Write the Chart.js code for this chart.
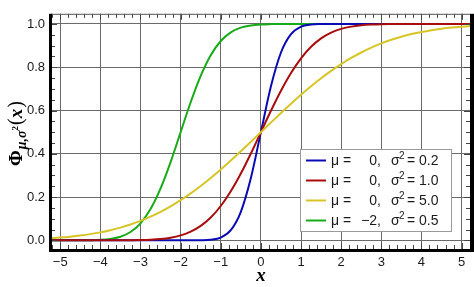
<!DOCTYPE html>
<html>
<head>
<meta charset="utf-8">
<script src="https://cdn.jsdelivr.net/npm/chart.js@4.4.1/dist/chart.umd.min.js"></script>
<style>
  html, body { margin: 0; padding: 0; background: #ffffff; }
  #wrap { width: 474px; height: 287px; }
</style>
</head>
<body>
<div id="wrap"><canvas id="cdfChart" width="474" height="287"></canvas></div>
<script>
// ── Data ────────────────────────────────────────────────────────────────────
const xValues = [
  -5.25, -5, -4.75, -4.5, -4.25, -4, -3.75, -3.5, -3.25, -3, -2.75, -2.5, -2.25, -2, -1.75,
  -1.5, -1.25, -1, -0.75, -0.5, -0.25, 0, 0.25, 0.5, 0.75, 1, 1.25, 1.5, 1.75, 2,
  2.25, 2.5, 2.75, 3, 3.25, 3.5, 3.75, 4, 4.25, 4.5, 4.75, 5, 5.25
];
const blueValues = [
  0, 0, 0, 0, 0, 0, 0, 0, 0, 0, 0, 0, 0, 0, 0,
  0.0004, 0.0026, 0.0127, 0.0468, 0.1318, 0.2881, 0.5, 0.7119, 0.8682, 0.9532, 0.9873, 0.9974, 0.9996, 1, 1,
  1, 1, 1, 1, 1, 1, 1, 1, 1, 1, 1, 1, 1
];
const redValues = [
  0, 0, 0, 0, 0, 0, 0.0001, 0.0002, 0.0006, 0.0013, 0.0030, 0.0062, 0.0122, 0.0228, 0.0401,
  0.0668, 0.1056, 0.1587, 0.2266, 0.3085, 0.4013, 0.5, 0.5987, 0.6915, 0.7734, 0.8413, 0.8944, 0.9332, 0.9599, 0.9772,
  0.9878, 0.9938, 0.9970, 0.9987, 0.9994, 0.9998, 0.9999, 1, 1, 1, 1, 1, 1
];
const yellowValues = [
  0.0094, 0.0127, 0.0168, 0.0221, 0.0287, 0.0368, 0.0468, 0.0588, 0.0731, 0.0899, 0.1094, 0.1318, 0.1572, 0.1856, 0.2169,
  0.2511, 0.2881, 0.3274, 0.3687, 0.4115, 0.4555, 0.5, 0.5445, 0.5885, 0.6313, 0.6726, 0.7119, 0.7489, 0.7831, 0.8144,
  0.8428, 0.8682, 0.8906, 0.9101, 0.9269, 0.9412, 0.9532, 0.9632, 0.9713, 0.9779, 0.9832, 0.9873, 0.9906
];
const greenValues = [
  0, 0, 0.0001, 0.0002, 0.0007, 0.0023, 0.0067, 0.0169, 0.0385, 0.0786, 0.1444, 0.2398, 0.3618, 0.5, 0.6382,
  0.7602, 0.8556, 0.9214, 0.9615, 0.9831, 0.9933, 0.9977, 0.9993, 0.9998, 0.9999, 1, 1, 1, 1, 1,
  1, 1, 1, 1, 1, 1, 1, 1, 1, 1, 1, 1, 1
];
const xTicks = [-5, -4, -3, -2, -1, 0, 1, 2, 3, 4, 5];
const yTicks = [0, 0.2, 0.4, 0.6, 0.8, 1.0];
const legendMu = ['0,', '0,', '0,', '\u22122,'];
const legendSigma = ['0.2', '1.0', '5.0', '0.5'];
const seriesColors = ['#0a0ab4', '#a80c0c', '#d6c526', '#18aa18'];

const FONT = '"Liberation Sans", Arial, Helvetica, sans-serif';
const SERIF = '"Liberation Serif", "DejaVu Serif", "Times New Roman", serif';

function toPoints(ys) {
  return xValues.map((x, i) => ({ x: x, y: ys[i] }));
}
function minusLabel(v) {
  return v < 0 ? '\u2212' + Math.abs(v) : String(v);
}

// ── Frame, minor ticks, titles and legend ───────────────────────────────────
const framePlugin = {
  id: 'framePlugin',
  afterDatasetsDraw(chart) {
    const { ctx, chartArea: a, scales: { x, y } } = chart;
    ctx.save();

    // tick marks on all four sides, pointing inward
    ctx.strokeStyle = '#444';
    ctx.lineWidth = 1;
    ctx.beginPath();
    for (let i = -26; i <= 26; i++) {
      const v = i / 5;
      const px = Math.round(x.getPixelForValue(v)) + 0.5;
      if (px < a.left || px > a.right) continue;
      const len = (i % 5 === 0) ? 6 : 4;
      ctx.moveTo(px, a.bottom); ctx.lineTo(px, a.bottom - len);
      ctx.moveTo(px, a.top); ctx.lineTo(px, a.top + len);
    }
    for (let i = 0; i <= 21; i++) {
      const v = i / 20;
      const py = Math.round(y.getPixelForValue(v)) + 0.5;
      if (py < a.top || py > a.bottom) continue;
      const len = (i % 4 === 0) ? 6 : 4;
      ctx.moveTo(a.left, py); ctx.lineTo(a.left + len, py);
      ctx.moveTo(a.right, py); ctx.lineTo(a.right - len, py);
    }
    ctx.stroke();

    // frame: thin top, heavy left/bottom/right
    ctx.strokeStyle = '#555';
    ctx.lineWidth = 1;
    ctx.beginPath();
    ctx.moveTo(a.left, a.top + 0.5); ctx.lineTo(a.right, a.top + 0.5);
    ctx.stroke();
    ctx.fillStyle = '#000';
    ctx.fillRect(a.left - 2, a.top, 3, a.bottom - a.top + 3);
    ctx.fillRect(a.left - 2, a.bottom, a.right - a.left + 6, 3);
    ctx.fillRect(a.right, a.top, 4, a.bottom - a.top + 3);

    // legend box
    const bx = 300, by = 149, bw = 151, bh = 82;
    ctx.fillStyle = '#ffffff';
    ctx.fillRect(bx, by, bw, bh);
    ctx.strokeStyle = '#9a9a9a';
    ctx.lineWidth = 1;
    ctx.strokeRect(bx + 0.5, by + 0.5, bw, bh);
    ctx.font = '14px ' + FONT;
    ctx.textBaseline = 'middle';
    for (let i = 0; i < 4; i++) {
      const ly = 160.5 + i * 20;
      ctx.strokeStyle = seriesColors[i];
      ctx.lineWidth = 2;
      ctx.beginPath();
      ctx.moveTo(306, ly); ctx.lineTo(326, ly);
      ctx.stroke();
      ctx.fillStyle = '#1a1a1a';
      ctx.textAlign = 'left';
      ctx.fillText('\u03bc =', 331, ly + 1);
      ctx.textAlign = 'right';
      ctx.fillText(legendMu[i], 381, ly + 1);
      ctx.textAlign = 'left';
      ctx.fillText('\u03c3', 391, ly + 1);
      ctx.font = '10px ' + FONT;
      ctx.fillText('2', 399, ly - 4);
      ctx.font = '14px ' + FONT;
      ctx.fillText('= ' + legendSigma[i], 407, ly + 1);
    }

    // x axis title
    ctx.fillStyle = '#000';
    ctx.textAlign = 'center';
    ctx.textBaseline = 'alphabetic';
    ctx.font = 'italic bold 19px ' + SERIF;
    ctx.fillText('x', x.getPixelForValue(0), 281);

    // y axis title, rotated
    ctx.translate(17, 129);
    ctx.rotate(-Math.PI / 2);
    ctx.textBaseline = 'middle';
    ctx.textAlign = 'left';
    let tx = -37;
    ctx.font = 'bold 19px ' + SERIF;
    ctx.fillText('\u03a6', tx, 0);
    tx += ctx.measureText('\u03a6').width + 1;
    ctx.font = 'italic bold 14px ' + SERIF;
    ctx.fillText('\u03bc,\u03c3', tx, 5);
    tx += ctx.measureText('\u03bc,\u03c3').width;
    ctx.font = 'bold 9px ' + SERIF;
    ctx.fillText('2', tx, -1);
    tx += ctx.measureText('2').width + 1;
    ctx.font = '20px ' + SERIF;
    ctx.fillText('(', tx, 0);
    tx += ctx.measureText('(').width;
    ctx.font = 'italic bold 19px ' + SERIF;
    ctx.fillText('x', tx, 0);
    tx += ctx.measureText('x').width + 1;
    ctx.font = '20px ' + SERIF;
    ctx.fillText(')', tx, 0);

    ctx.restore();
  }
};

// ── Chart ───────────────────────────────────────────────────────────────────
const curveStyle = {
  borderWidth: 2,
  pointRadius: 0,
  fill: false,
  cubicInterpolationMode: 'monotone'
};

new Chart(document.getElementById('cdfChart'), {
  type: 'line',
  data: {
    datasets: [
      { ...curveStyle, label: 'yellow', data: toPoints(yellowValues), borderColor: seriesColors[2] },
      { ...curveStyle, label: 'red', data: toPoints(redValues), borderColor: seriesColors[1] },
      { ...curveStyle, label: 'blue', data: toPoints(blueValues), borderColor: seriesColors[0] },
      { ...curveStyle, label: 'green', data: toPoints(greenValues), borderColor: seriesColors[3] }
    ]
  },
  options: {
    responsive: false,
    animation: false,
    layout: { padding: { top: 2, right: 4, left: 0, bottom: 0 } },
    plugins: {
      legend: { display: false },
      tooltip: { enabled: false }
    },
    scales: {
      x: {
        type: 'linear',
        min: -5.23,
        max: 5.21,
        afterBuildTicks: scale => { scale.ticks = xTicks.map(v => ({ value: v })); },
        afterFit: scale => { scale.height = 38; },
        border: { display: false },
        grid: { color: '#6a6a6a', lineWidth: 1, drawTicks: false },
        ticks: {
          padding: 6,
          maxRotation: 0,
          color: '#1a1a1a',
          font: { family: FONT, size: 13 },
          callback: v => minusLabel(v)
        }
      },
      y: {
        type: 'linear',
        min: -0.04,
        max: 1.047,
        afterBuildTicks: scale => { scale.ticks = yTicks.map(v => ({ value: v })); },
        afterFit: scale => { scale.width = 51; },
        border: { display: false },
        grid: { color: '#6a6a6a', lineWidth: 1, drawTicks: false },
        ticks: {
          padding: 6,
          color: '#1a1a1a',
          font: { family: FONT, size: 13 },
          callback: v => v.toFixed(1)
        }
      }
    }
  },
  plugins: [framePlugin]
});
</script>
</body>
</html>
